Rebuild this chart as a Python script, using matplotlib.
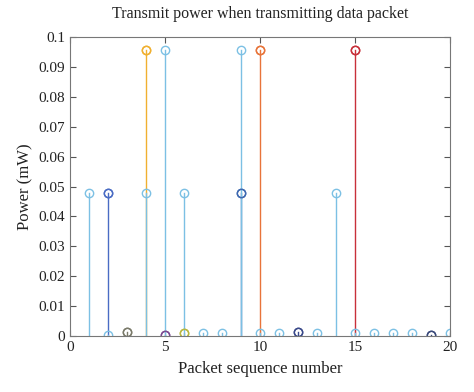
import matplotlib
matplotlib.use("Agg")
import matplotlib.pyplot as plt

plt.rcParams['font.family'] = ['Liberation Serif', 'DejaVu Serif']

# main series (light blue stems), None = no stem in this series
packets = list(range(1, 21))
power_main = [0.0477, 0.0005, None, 0.0477, 0.0955, 0.0477, 0.001, 0.001, 0.0955, 0.001,
              0.001, None, 0.001, 0.0477, 0.001, 0.001, 0.001, 0.001, None, 0.001]

# other stems, one colour each (drawn under the main series)
extra_x = [2, 3, 4, 5, 6, 9, 10, 12, 15, 19]
extra_power = [0.0477, 0.0014, 0.0955, 0.0003, 0.001, 0.0477, 0.0955, 0.0012, 0.0955, 0.0005]
extra_colors = ['#4a6cc4', '#7a7a6a', '#f0b030', '#7a4a90', '#b8b840',
                '#3d68b0', '#e8743a', '#3a4a8a', '#c8303a', '#3a4a7a']

light_blue = '#7cc0e4'

fig = plt.figure(figsize=(4.74, 3.92), dpi=100)
ax = fig.add_axes([70 / 474, 56 / 392, 380 / 474, 299 / 392])

for x, p, c in zip(extra_x, extra_power, extra_colors):
    ax.plot([x, x], [0, p], color=c, lw=1.0)
    ax.plot(x, p, 'o', mfc='none', mec=c, ms=6, mew=1.0)

for x, p in zip(packets, power_main):
    if p is None:
        continue
    ax.plot([x, x], [0, p], color=light_blue, lw=1.0)
    ax.plot(x, p, 'o', mfc='none', mec=light_blue, ms=6, mew=1.0)

# re-draw the darker markers on top so they stay visible
for x, p, c in zip(extra_x, extra_power, extra_colors):
    ax.plot(x, p, 'o', mfc='none', mec=c, ms=6, mew=1.0)

ax.set_xlim(0, 20)
ax.set_ylim(0, 0.1)
ax.set_xticks([0, 5, 10, 15, 20])
ax.set_yticks([i / 100 for i in range(11)])
ax.set_yticklabels(['0'] + ['%g' % (i / 100) for i in range(1, 11)])
ax.tick_params(direction='in', top=True, right=True, labelsize=11, colors='#555555',
               labelcolor='#222222', length=4)
for s in ax.spines.values():
    s.set_color('#777777')
    s.set_linewidth(0.8)

ax.set_title('Transmit power when transmitting data packet', fontsize=11.5, color='#222222', pad=14)
ax.set_xlabel('Packet sequence number', fontsize=12, color='#222222', labelpad=5)
ax.set_ylabel('Power (mW)', fontsize=12, color='#222222', labelpad=4)

fig.savefig('out.png', dpi=100)
